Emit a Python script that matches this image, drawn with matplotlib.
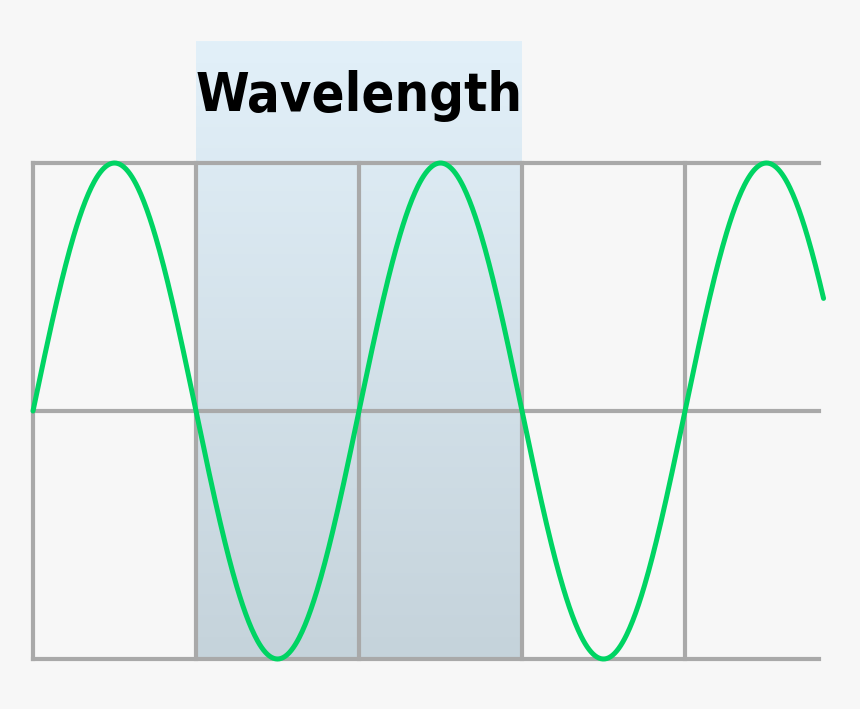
import numpy as np
import matplotlib.pyplot as plt
from matplotlib.colors import LinearSegmentedColormap

# grid positions (in wavelength/2 units) and wave settings
grid_x = [0, 1, 2, 3, 4]
grid_y = [-1, 0, 1]
grid_right = 4.82
wavelength = 2.0
amplitude = 1.0
wave_end = 4.85
band = (1, 3)
band_top = 1.49
label = "Wavelength"

bg = "#f7f7f7"
grid_col = "#a9a9a9"
green = "#00d463"

fig = plt.figure(figsize=(8.6, 7.09), dpi=100, facecolor=bg)
ax = fig.add_axes([0, 0, 1, 1])
ax.set_facecolor(bg)
ax.set_xlim(-33 / 163, 827 / 163)
ax.set_ylim(-298 / 248, 411 / 248)
ax.axis("off")

# shaded band with vertical gradient
cmap = LinearSegmentedColormap.from_list("band", ["#c5d3db", "#e2f0f9"])
grad = np.linspace(0, 1, 256).reshape(-1, 1)
ax.imshow(grad, extent=[band[0], band[1], -1, band_top], origin="lower",
          cmap=cmap, aspect="auto", zorder=0)

# grid
for gx in grid_x:
    ax.plot([gx, gx], [-1, 1], color=grid_col, lw=3, zorder=1, solid_capstyle="projecting")
for gy in grid_y:
    ax.plot([0, grid_right], [gy, gy], color=grid_col, lw=3, zorder=1, solid_capstyle="projecting")

# wave
x = np.linspace(0, wave_end, 800)
y = amplitude * np.sin(2 * np.pi * x / wavelength)
ax.plot(x, y, color=green, lw=3.6, zorder=2, solid_capstyle="round")

ax.text((band[0] + band[1]) / 2, 300 / 248, label, ha="center", va="baseline",
        fontsize=39, fontweight="bold", fontstretch="condensed", family="DejaVu Sans",
        color="black", zorder=3)

fig.savefig("out.png", dpi=100, facecolor=bg)
